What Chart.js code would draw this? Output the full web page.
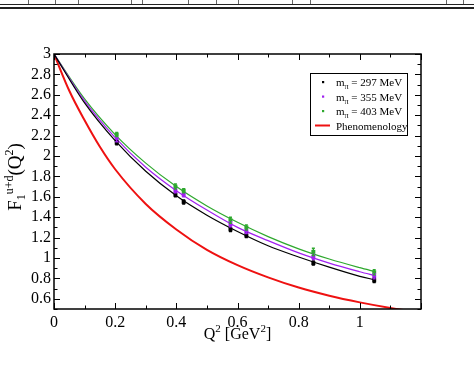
<!DOCTYPE html>
<html>
<head>
<meta charset="utf-8">
<script src="https://cdn.jsdelivr.net/npm/chart.js@4"></script>
<style>
  html, body { margin: 0; padding: 0; background: #fff; }
  #wrap { position: relative; width: 474px; height: 365px; overflow: hidden; }
  #chart { position: absolute; left: 0; top: 0; }
  .rule { position: absolute; left: 0; width: 474px; background: #222; }
  .vmark { position: absolute; top: 0; width: 1px; height: 4px; background: #666; }
</style>
</head>
<body>
<div id="wrap">
  <canvas id="chart" width="474" height="365"></canvas>
</div>
<script>
// lattice points: Q^2 [GeV^2] and F1^{u+d}
const q2Points = [0.205, 0.397, 0.424, 0.577, 0.629, 0.848, 1.047];
const f297 = [2.13, 1.62, 1.55, 1.28, 1.22, 0.95, 0.78];
const f355 = [2.16, 1.66, 1.62, 1.33, 1.26, 1.01, 0.82];
const f403 = [2.21, 1.70, 1.66, 1.37, 1.30, 1.06, 0.86];
const err297 = [0.02, 0.02, 0.02, 0.02, 0.02, 0.02, 0.02];
const err355 = [0.02, 0.02, 0.02, 0.025, 0.02, 0.025, 0.025];
const err403 = [0.02, 0.025, 0.02, 0.03, 0.025, 0.035, 0.025];

// fit curves
const q2Fit = [0, 0.1, 0.2, 0.3, 0.4, 0.5, 0.6, 0.7, 0.8, 0.9, 1.0, 1.05];
const fit297 = [3, 2.52, 2.15, 1.85, 1.61, 1.42, 1.26, 1.12, 1.01, 0.91, 0.82, 0.785];
const fit355 = [3, 2.54, 2.18, 1.89, 1.66, 1.47, 1.30, 1.17, 1.05, 0.95, 0.865, 0.826];
const fit403 = [3, 2.56, 2.21, 1.93, 1.70, 1.51, 1.35, 1.21, 1.09, 0.99, 0.905, 0.866];

// phenomenology
const q2Phen = [0, 0.05, 0.1, 0.15, 0.2, 0.3, 0.4, 0.5, 0.6, 0.7, 0.8, 0.9, 1.0, 1.1, 1.2];
const fPhen = [3, 2.64, 2.35, 2.09, 1.87, 1.53, 1.28, 1.08, 0.93, 0.81, 0.71, 0.63, 0.565, 0.51, 0.465];

const massLabels = ['297', '355', '403'];
const xTicks = [0, 0.2, 0.4, 0.6, 0.8, 1];
const yTicks = [0.6, 0.8, 1, 1.2, 1.4, 1.6, 1.8, 2, 2.2, 2.4, 2.6, 2.8, 3];

// paper table rule fragment at the top of the crop
const ruleMarks = [28, 55, 78, 131, 142, 188, 216, 238, 292, 310, 446, 463];

const colors = ['#000000', '#a020f0', '#2ea82e'];
const phenColor = '#ee1111';
const serif = '"Liberation Serif", "Times New Roman", serif';

const wrap = document.getElementById('wrap');
ruleMarks.forEach(x => {
  const d = document.createElement('div');
  d.className = 'vmark';
  d.style.left = x + 'px';
  wrap.appendChild(d);
});
[[4, 1], [7, 2]].forEach(([top, h]) => {
  const d = document.createElement('div');
  d.className = 'rule';
  d.style.top = top + 'px';
  d.style.height = h + 'px';
  wrap.appendChild(d);
});

const pts = (xs, ys) => xs.map((x, i) => ({ x, y: ys[i] }));
const fmt = v => String(Number(v.toFixed(1)));

function richWidth(ctx, parts) {
  let w = 0;
  for (const [t, size] of parts) {
    ctx.font = size + 'px ' + serif;
    w += ctx.measureText(t).width;
  }
  return w;
}

function drawRich(ctx, parts, x, y) {
  let cx = x;
  for (const [t, size, dy] of parts) {
    ctx.font = size + 'px ' + serif;
    ctx.fillText(t, cx, y + dy);
    cx += ctx.measureText(t).width;
  }
}

const series = [f297, f355, f403];
const errs = [err297, err355, err403];
const fits = [fit297, fit355, fit403];

const datasets = [];
series.forEach((s, i) => {
  datasets.push({
    label: massLabels[i],
    data: pts(q2Points, s),
    errors: errs[i],
    borderColor: colors[i],
    backgroundColor: colors[i],
    pointStyle: 'rect',
    pointRadius: 2.8,
    borderWidth: 0,
    showLine: false,
  });
  datasets.push({
    label: 'fit' + massLabels[i],
    data: pts(q2Fit, fits[i]),
    borderColor: colors[i],
    borderWidth: 1.2,
    pointRadius: 0,
    showLine: true,
    cubicInterpolationMode: 'monotone',
  });
});
datasets.push({
  label: 'Phenomenology',
  data: pts(q2Phen, fPhen),
  borderColor: phenColor,
  borderWidth: 2,
  pointRadius: 0,
  showLine: true,
  cubicInterpolationMode: 'monotone',
  clip: 0,
});

const framePlugin = {
  id: 'frame',
  afterDatasetsDraw(chart) {
    const { ctx, scales: { x, y } } = chart;
    chart.data.datasets.forEach(ds => {
      if (!ds.errors) return;
      ctx.save();
      ctx.strokeStyle = ds.borderColor;
      ctx.lineWidth = 1.4;
      ds.data.forEach((p, j) => {
        const px = x.getPixelForValue(p.x);
        const t = y.getPixelForValue(p.y + ds.errors[j]);
        const b = y.getPixelForValue(p.y - ds.errors[j]);
        ctx.beginPath();
        ctx.moveTo(px, t); ctx.lineTo(px, b);
        ctx.moveTo(px - 1.5, t); ctx.lineTo(px + 1.5, t);
        ctx.moveTo(px - 1.5, b); ctx.lineTo(px + 1.5, b);
        ctx.stroke();
      });
      ctx.restore();
    });
  },
  afterDraw(chart) {
    const { ctx, chartArea: a, scales: { x, y } } = chart;
    ctx.save();
    ctx.strokeStyle = '#000';
    ctx.lineWidth = 1.5;
    ctx.strokeRect(a.left, a.top, a.right - a.left, a.bottom - a.top);

    ctx.lineWidth = 1;
    ctx.beginPath();
    for (let k = 0; k <= 12; k++) {
      const v = k / 10;
      const px = Math.round(x.getPixelForValue(v)) + 0.5;
      const len = k % 2 === 0 ? 6 : 3.5;
      ctx.moveTo(px, a.bottom); ctx.lineTo(px, a.bottom - len);
      ctx.moveTo(px, a.top); ctx.lineTo(px, a.top + len);
    }
    for (let k = 5; k <= 30; k++) {
      const v = k / 10;
      const py = Math.round(y.getPixelForValue(v)) + 0.5;
      const len = k % 2 === 0 ? 6 : 3.5;
      ctx.moveTo(a.left, py); ctx.lineTo(a.left + len, py);
      ctx.moveTo(a.right, py); ctx.lineTo(a.right - len, py);
    }
    ctx.stroke();

    // axis titles
    ctx.fillStyle = '#000';
    ctx.textBaseline = 'alphabetic';
    const xt = [['Q', 16, 0], ['2', 11, -7], [' [GeV', 16, 0], ['2', 11, -7], [']', 16, 0]];
    drawRich(ctx, xt, (a.left + a.right) / 2 - richWidth(ctx, xt) / 2, a.bottom + 30);

    ctx.save();
    ctx.translate(21, a.top + 123);
    ctx.rotate(-Math.PI / 2);
    const yt = [['F', 19, 0], ['1', 12, 4], ['u+d', 12, -8], ['(Q', 19, 0], ['2', 12, -8], [')', 19, 0]];
    drawRich(ctx, yt, -richWidth(ctx, yt) / 2, 0);
    ctx.restore();

    // legend
    const bx = a.right - 111, by = a.top + 19, bw = 97, bh = 62;
    ctx.fillStyle = '#fff';
    ctx.fillRect(bx, by, bw, bh);
    ctx.strokeStyle = '#000';
    ctx.lineWidth = 1;
    ctx.strokeRect(bx + 0.5, by + 0.5, bw, bh);
    massLabels.forEach((m, i) => {
      const ry = by + 9 + i * 14.5;
      ctx.fillStyle = colors[i];
      ctx.fillRect(bx + 12, ry - 1, 2.2, 2.2);
      ctx.fillStyle = '#000';
      drawRich(ctx, [['m', 11, 0], ['\u03c0', 8, 3], [' = ' + m + ' MeV', 11, 0]], bx + 26, ry + 4);
    });
    const ry = by + 9 + 3 * 14.5;
    ctx.strokeStyle = phenColor;
    ctx.lineWidth = 2;
    ctx.beginPath();
    ctx.moveTo(bx + 5, ry); ctx.lineTo(bx + 20, ry);
    ctx.stroke();
    ctx.fillStyle = '#000';
    drawRich(ctx, [['Phenomenology', 11, 0]], bx + 26, ry + 4);
    ctx.restore();
  }
};

new Chart(document.getElementById('chart'), {
  type: 'scatter',
  data: { datasets },
  options: {
    responsive: false,
    animation: false,
    layout: { padding: { left: 0, top: 54, right: 53, bottom: 0 } },
    plugins: { legend: { display: false }, tooltip: { enabled: false } },
    scales: {
      x: {
        type: 'linear',
        min: 0,
        max: 1.2,
        grid: { display: false, drawTicks: false },
        border: { display: false },
        afterBuildTicks: s => { s.ticks = xTicks.map(value => ({ value })); },
        afterFit: s => { s.height = 56; },
        ticks: { color: '#000', padding: 4, autoSkip: false, maxRotation: 0, font: { family: serif, size: 16 }, callback: v => fmt(v) },
      },
      y: {
        type: 'linear',
        min: 0.5,
        max: 3,
        grid: { display: false, drawTicks: false },
        border: { display: false },
        afterBuildTicks: s => { s.ticks = yTicks.map(value => ({ value })); },
        afterFit: s => { s.width = 54; },
        ticks: { color: '#000', padding: 3, autoSkip: false, font: { family: serif, size: 16 }, callback: v => fmt(v) },
      },
    },
  },
  plugins: [framePlugin],
});
</script>
</body>
</html>
